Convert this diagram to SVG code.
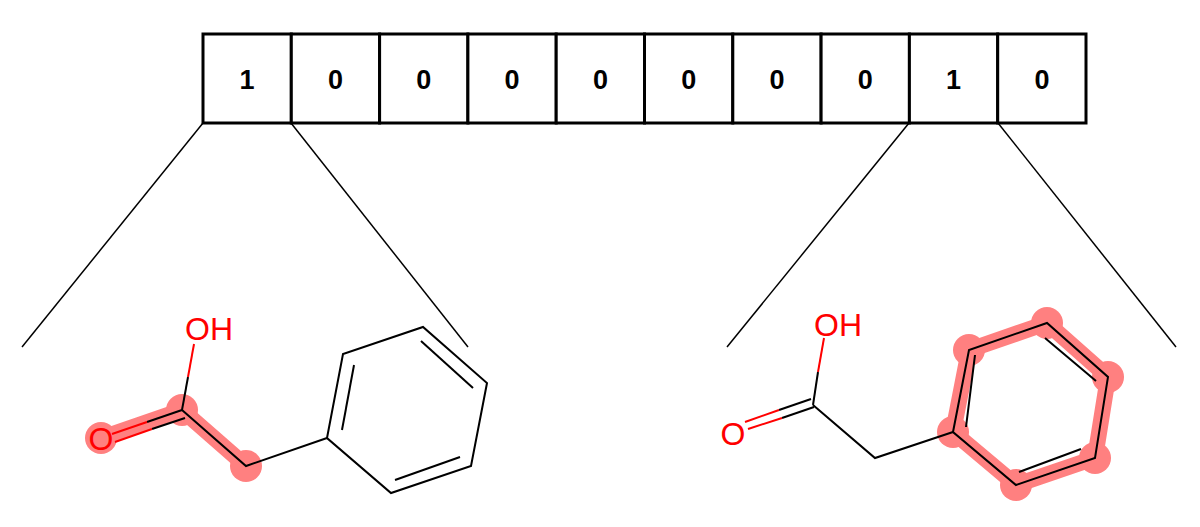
<svg xmlns="http://www.w3.org/2000/svg" width="1200" height="527" viewBox="0 0 1200 527">
<style>
.box{fill:#fff;stroke:#000;stroke-width:3}
.d{font-family:"Liberation Sans",Arial,sans-serif;font-size:27px;font-weight:bold;text-anchor:middle}
.b{stroke:#000;stroke-width:2;fill:none}
.r{stroke:#f00;stroke-width:2;fill:none}
.hl{stroke:#ff8080;stroke-width:16;stroke-linecap:round;fill:none}
.hc{fill:#ff8080}
.at{font-family:"Liberation Sans",Arial,sans-serif;font-size:32px;fill:#f00;text-anchor:middle}
.c{stroke:#000;stroke-width:1.5}
</style>
<rect width="1200" height="527" fill="#fff"/>
<g id="bits">
<rect class="box" x="203" y="34" width="88.3" height="89"/><text class="d" x="247" y="89">1</text>
<rect class="box" x="291.3" y="34" width="88.3" height="89"/><text class="d" x="335.5" y="89">0</text>
<rect class="box" x="379.6" y="34" width="88.3" height="89"/><text class="d" x="423.8" y="89">0</text>
<rect class="box" x="467.9" y="34" width="88.3" height="89"/><text class="d" x="512" y="89">0</text>
<rect class="box" x="556.2" y="34" width="88.3" height="89"/><text class="d" x="600.4" y="89">0</text>
<rect class="box" x="644.5" y="34" width="88.3" height="89"/><text class="d" x="688.7" y="89">0</text>
<rect class="box" x="732.8" y="34" width="88.3" height="89"/><text class="d" x="777" y="89">0</text>
<rect class="box" x="821.1" y="34" width="88.3" height="89"/><text class="d" x="865.3" y="89">0</text>
<rect class="box" x="909.4" y="34" width="88.3" height="89"/><text class="d" x="953.6" y="89">1</text>
<rect class="box" x="997.7" y="34" width="88.3" height="89"/><text class="d" x="1041.9" y="89">0</text>
</g>
<g id="connectors">
<line class="c" x1="203" y1="123" x2="22" y2="347"/>
<line class="c" x1="291" y1="123" x2="468" y2="347"/>
<line class="c" x1="909" y1="123" x2="727" y2="347"/>
<line class="c" x1="998" y1="123" x2="1176" y2="347"/>
</g>
<g id="mol-left">
<polyline class="hl" points="101,438 182,410 246,466"/>
<circle class="hc" cx="101" cy="438" r="16"/><circle class="hc" cx="182" cy="410" r="16"/><circle class="hc" cx="246" cy="466" r="16"/>
<line class="r" x1="194" y1="344" x2="188" y2="377"/><line class="b" x1="188" y1="377" x2="182" y2="410"/>
<line class="b" x1="182" y1="410" x2="147" y2="422"/><line class="r" x1="147" y1="422" x2="112" y2="434"/>
<line class="b" x1="185" y1="418" x2="152" y2="429"/><line class="r" x1="152" y1="429" x2="115" y2="442"/>
<polyline class="b" points="182,410 246,466 327,438"/>
<polygon class="b" points="327,438 343,354 423,327 487,383 471,466 391,493"/>
<line class="b" x1="354" y1="365" x2="342" y2="430"/>
<line class="b" x1="421" y1="341" x2="473" y2="388"/>
<line class="b" x1="395" y1="480" x2="460" y2="457"/>
<text class="at" x="101" y="450">O</text>
<text class="at" x="209" y="340">OH</text>
</g>
<g id="mol-right">
<polygon class="hl" points="953,432 969,350 1047,323 1108,377 1095,458 1016,485" stroke-linejoin="round"/>
<circle class="hc" cx="953" cy="432" r="16"/><circle class="hc" cx="969" cy="350" r="16"/><circle class="hc" cx="1047" cy="323" r="16"/><circle class="hc" cx="1108" cy="377" r="16"/><circle class="hc" cx="1095" cy="458" r="16"/><circle class="hc" cx="1016" cy="485" r="16"/>
<line class="r" x1="824" y1="338" x2="818" y2="372"/><line class="b" x1="818" y1="372" x2="813" y2="405"/>
<line class="b" x1="811" y1="399" x2="779" y2="410"/><line class="r" x1="779" y1="410" x2="745" y2="422"/>
<line class="b" x1="814" y1="407" x2="782" y2="418"/><line class="r" x1="782" y1="418" x2="748" y2="429"/>
<polyline class="b" points="813,405 875,458 953,432"/>
<polygon class="b" points="953,432 969,350 1047,323 1108,377 1095,458 1016,485"/>
<line class="b" x1="975" y1="355" x2="966" y2="427"/>
<line class="b" x1="1045" y1="338" x2="1096" y2="381"/>
<line class="b" x1="1019" y1="472" x2="1081" y2="449"/>
<text class="at" x="733" y="445">O</text>
<text class="at" x="838" y="336">OH</text>
</g>
</svg>
